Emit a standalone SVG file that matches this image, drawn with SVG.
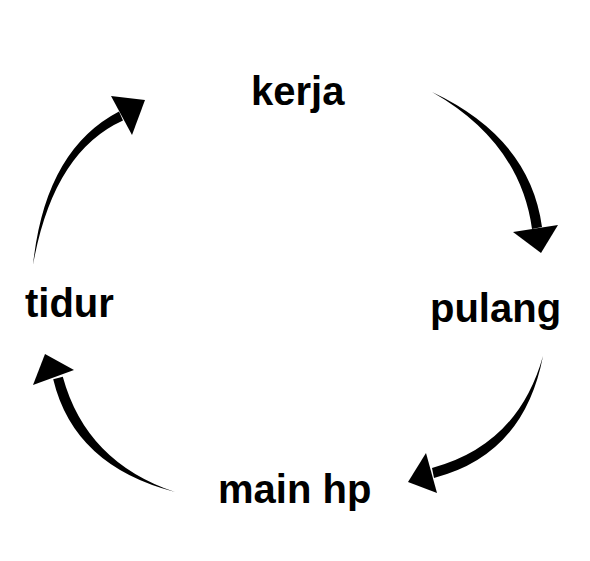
<svg xmlns="http://www.w3.org/2000/svg" width="590" height="561" viewBox="0 0 590 561">
<style>
.lbl{font-family:"Liberation Sans",Arial,sans-serif;font-weight:bold;font-size:40px;fill:#000}
.arr{fill:#000;stroke:none}
</style>
<rect width="590" height="561" fill="#fff"/>
<g id="connectors">
<g id="c-tidur-kerja">
<path class="arr" d="M33,265 Q45,150 119,111.5 L123,120.5 Q53,152 33,265 Z"/>
<polygon class="arr" points="111,96 145,100 132,135"/>
</g>
<g id="c-kerja-pulang">
<path class="arr" d="M432,92 Q520,142 532,229 L542,227 Q530,138 432,92 Z"/>
<polygon class="arr" points="513,232 558,225 541,253"/>
</g>
<g id="c-pulang-main">
<path class="arr" d="M543,356 Q518,445 432,468 L434,478 Q524,455 543,356 Z"/>
<polygon class="arr" points="426,453 437,493 408,482"/>
</g>
<g id="c-main-tidur">
<path class="arr" d="M175,492 Q86,462 62.8,376.7 L53.2,379.3 Q74,466 175,492 Z"/>
<polygon class="arr" points="33,385 45,354 74,370"/>
</g>
</g>
<g id="node-kerja"><text class="lbl" x="251" y="105">kerja</text></g>
<g id="node-pulang"><text class="lbl" x="430" y="322">pulang</text></g>
<g id="node-main-hp"><text class="lbl" x="218" y="503">main hp</text></g>
<g id="node-tidur"><text class="lbl" x="25" y="317">tidur</text></g>
</svg>
